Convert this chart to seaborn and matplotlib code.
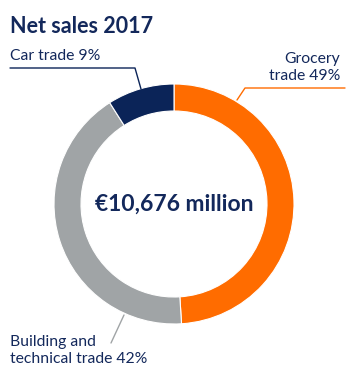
import matplotlib
matplotlib.use("Agg")
import matplotlib.pyplot as plt
import seaborn as sns
import pandas as pd

categories = ["Grocery trade", "Building and technical trade", "Car trade"]
shares = [49, 42, 9]
colors = ["#FF6C00", "#A0A4A6", "#0B2458"]
label_texts = ["Grocery\ntrade 49%", "Building and\ntechnical trade 42%", "Car trade 9%"]
title_text = "Net sales 2017"
center_text = "€10,676 million"

df = pd.DataFrame({"category": categories, "share": shares, "color": colors})

sns.set_theme(style="white")
plt.rcParams["font.family"] = ["Lato", "DejaVu Sans"]

W, H = 350, 385
fig = plt.figure(figsize=(W / 100, H / 100), dpi=100)
ax = fig.add_axes([0, 0, 1, 1])

navy = "#13285B"
cx, cy = 174, 204
R, ring = 120, 27

def Y(y):
    return H - y

ax.pie(df["share"], colors=df["color"], startangle=90, counterclock=False,
       radius=R, center=(cx, Y(cy)),
       wedgeprops=dict(width=ring, linewidth=0.8, edgecolor="white"))
ax.set_xlim(0, W)
ax.set_ylim(0, H)
ax.set_aspect("equal")
ax.axis("off")

ax.text(10, Y(33), title_text, fontsize=15.5, fontweight="bold", color=navy,
        ha="left", va="baseline")
ax.text(cx, Y(cy), center_text, fontsize=16.5, fontweight="bold", color=navy,
        ha="center", va="center")

# Car trade
ax.text(10, Y(60), label_texts[2], fontsize=11.3, color=navy, ha="left", va="baseline")
ax.plot([10, 135, 141], [Y(68), Y(68), Y(89)], color=colors[2], lw=1)
# Grocery
ax.text(340, Y(80), label_texts[0], fontsize=11.3, color=navy, ha="right",
        va="baseline", linespacing=1.25, multialignment="right")
ax.plot([345, 245, 237], [Y(88), Y(88), Y(100)], color=colors[0], lw=1)
# Building
ax.text(10, Y(363), label_texts[1], fontsize=11.3, color=navy, ha="left",
        va="baseline", linespacing=1.25)
ax.plot([124, 111], [Y(315), Y(343)], color=colors[1], lw=1)

fig.savefig("out.png", dpi=100, facecolor="white")
